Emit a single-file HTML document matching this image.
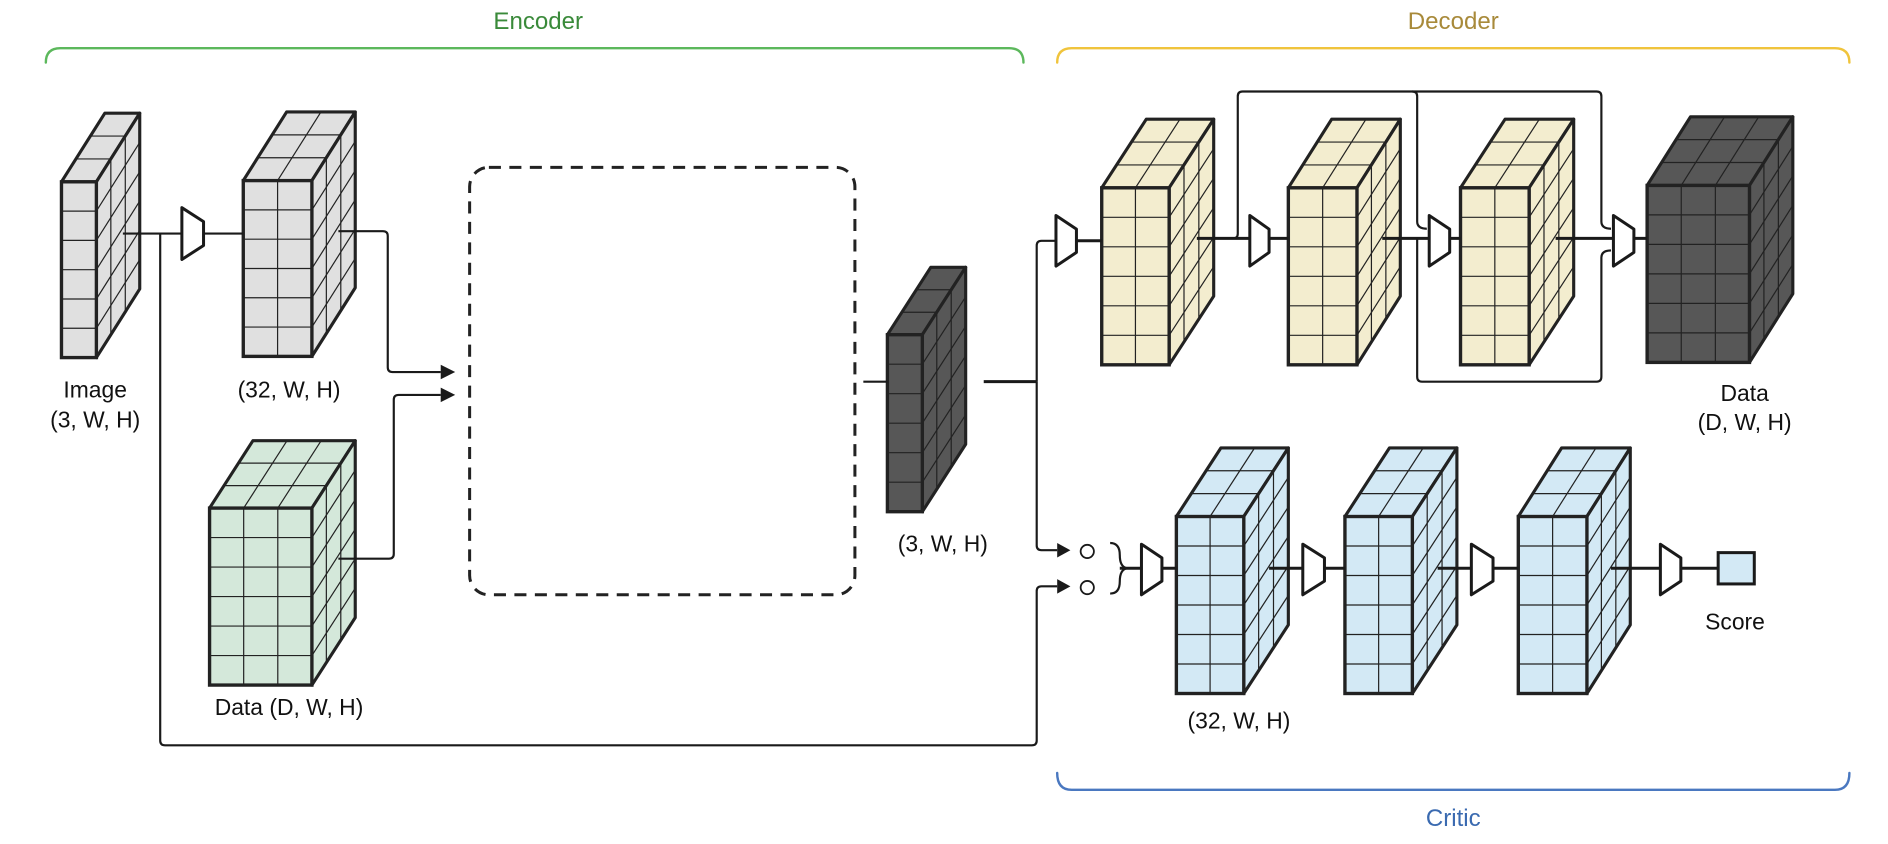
<!DOCTYPE html>
<html><head><meta charset="utf-8">
<style>html,body{margin:0;padding:0;background:#fff;width:1888px;height:844px;overflow:hidden}
text{font-family:"Liberation Sans",Arial,sans-serif}</style></head>
<body>
<svg id="s" width="1888" height="844" viewBox="0 0 1568 701" xmlns="http://www.w3.org/2000/svg">
<g fill="none" stroke-width="2" stroke-linecap="round">
<path d="M38,52 Q38,40 50,40 L838,40 Q850,40 850,52" stroke="#5cb85c"/>
<path d="M878,52 Q878,40 890,40 L1524,40 Q1536,40 1536,52" stroke="#f0c43c"/>
<path d="M878,642 Q878,656 890,656 L1524,656 Q1536,656 1536,642" stroke="#4a78c0"/>
</g>
<text x="447" y="24" font-size="20" fill="#3a8a3a" text-anchor="middle">Encoder</text>
<text x="1207" y="24" font-size="20" fill="#a88a3a" text-anchor="middle">Decoder</text>
<text x="1207" y="686" font-size="20" fill="#3a6ab0" text-anchor="middle">Critic</text>
<rect x="390" y="139" width="320" height="355" rx="16" fill="none" stroke="#222" stroke-width="2.5" stroke-dasharray="10,7"/>
<g id="cubes"></g>
<g id="lines" fill="none" stroke="#1a1a1a" stroke-width="1.8">
<path d="M102,194 L202,194"/>
<path d="M133,194 L133,615 Q133,619 137,619 L857,619 Q861,619 861,615 L861,491 Q861,487 865,487 L878,487"/>
<path d="M281,192 L318,192 Q322,192 322,196 L322,305 Q322,309 326,309 L366,309"/>
<path d="M281,464 L323,464 Q327,464 327,460 L327,332 Q327,328 331,328 L366,328"/>
<path d="M717,317 L737,317"/>
<path d="M817,317 L861,317" stroke-width="2.5"/>
<path d="M861,317 L861,204 Q861,200 865,200 L877,200"/>
<path d="M861,317 L861,453 Q861,457 865,457 L878,457"/>
<path d="M894,200 L915,200 M994,198 L1038,198 M1054,198 L1070,198 M1148,198 L1187,198 M1204,198 L1213,198 M1292,198 L1340,198 M1357,198 L1368,198" stroke-width="2.5"/>
<path d="M1024,198 Q1028,198 1028,194 L1028,80 Q1028,76 1032,76 L1326,76 Q1330,76 1330,80 L1330,184 Q1330,190 1338,190"/>
<path d="M1173,76 Q1177,76 1177,80 L1177,184 Q1177,190 1185,190"/>
<path d="M1338,208 Q1330,208 1330,214 L1330,313 Q1330,317 1326,317 L1181,317 Q1177,317 1177,313 L1177,198"/>
<path d="M930,472 L948,472 M965,472 L977,472 M1054,472 L1082,472 M1100,472 L1117,472 M1194,472 L1222,472 M1240,472 L1261,472 M1338,472 L1379,472 M1396,472 L1427,472" stroke-width="2.5"/>
<path d="M922,451 Q930,451 930,461 Q930,471 936,472 Q930,473 930,483 Q930,493 922,493" stroke-width="1.8"/>
</g>
<g fill="#1a1a1a">
<polygon points="366,303 378,309 366,315"/>
<polygon points="366,322 378,328 366,334"/>
<polygon points="878,451 889,457 878,463"/>
<polygon points="878,481 889,487 878,493"/>
</g>
<g fill="none" stroke="#1a1a1a" stroke-width="1.5">
<circle cx="903" cy="458" r="5.5"/><circle cx="903" cy="488" r="5.5"/>
</g>
<g id="traps" fill="#fff" stroke="#1a1a1a" stroke-width="2.5" stroke-linejoin="round"></g>
<rect x="1427" y="459" width="30" height="26" fill="#d3e9f5" stroke="#1a1a1a" stroke-width="2.5"/>
<g font-size="19" fill="#111" text-anchor="middle">
<text x="79" y="330">Image</text><text x="79" y="355">(3, W, H)</text>
<text x="240" y="330">(32, W, H)</text>
<text x="240" y="594">Data (D, W, H)</text>
<text x="783" y="458">(3, W, H)</text>
<text x="1449" y="333">Data</text><text x="1449" y="357">(D, W, H)</text>
<text x="1441" y="523">Score</text>
<text x="1029" y="605">(32, W, H)</text>
</g>
</svg>
<script>
var NS="http://www.w3.org/2000/svg";
function el(p,t,a){var e=document.createElementNS(NS,t);for(var k in a)e.setAttribute(k,a[k]);p.appendChild(e);return e;}
var g=document.getElementById("cubes");
function cube(x,y,w,h,dx,dy,nc,nr,fill,side,line){
 line=line||"#222";
 el(g,"polygon",{points:[x,y,x+dx,y+dy,x+w+dx,y+dy,x+w,y].join(","),fill:fill,stroke:"#222","stroke-width":2.6,"stroke-linejoin":"round"});
 el(g,"polygon",{points:[x+w,y,x+w+dx,y+dy,x+w+dx,y+h+dy,x+w,y+h].join(","),fill:side,stroke:"#222","stroke-width":2.6,"stroke-linejoin":"round"});
 el(g,"rect",{x:x,y:y,width:w,height:h,fill:fill,stroke:"#222","stroke-width":2.8});
 var ds=[1/3,2/3];
 for(var i=1;i<nc;i++){var cx=x+w*i/nc;el(g,"line",{x1:cx,y1:y,x2:cx,y2:y+h,stroke:line,"stroke-width":1});el(g,"line",{x1:cx,y1:y,x2:cx+dx,y2:y+dy,stroke:line,"stroke-width":1});}
 for(var j=1;j<nr;j++){var cy=y+h*j/nr;el(g,"line",{x1:x,y1:cy,x2:x+w,y2:cy,stroke:line,"stroke-width":1});el(g,"line",{x1:x+w,y1:cy,x2:x+w+dx,y2:cy+dy,stroke:line,"stroke-width":1});}
 ds.forEach(function(f){el(g,"line",{x1:x+dx*f,y1:y+dy*f,x2:x+w+dx*f,y2:y+dy*f,stroke:line,"stroke-width":1});el(g,"line",{x1:x+w+dx*f,y1:y+dy*f,x2:x+w+dx*f,y2:y+h+dy*f,stroke:line,"stroke-width":1});});
}
var GR="#e0e0e0",YE="#f3edcf",GN="#d4e8da",BL="#d3e9f5",DK="#575757";
cube(51,151,29,146,36,-57,1,6,GR,GR);
cube(202,150,57,146,36,-57,2,6,GR,GR);
cube(174,422,85,147,36,-56,3,6,GN,GN);
cube(737,278,29,147,36,-56,1,6,DK,DK,"#222");
cube(915,156,56,147,37,-57,2,6,YE,YE);
cube(1070,156,57,147,36,-57,2,6,YE,YE);
cube(1213,156,57,147,37,-57,2,6,YE,YE);
cube(1368,154,85,147,36,-57,3,6,DK,DK,"#222");
cube(977,429,56,147,37,-57,2,6,BL,BL);
cube(1117,429,56,147,37,-57,2,6,BL,BL);
cube(1261,429,57,147,36,-57,2,6,BL,BL);
var t=document.getElementById("traps");
function trap(x,cy,w,h){var s=h*0.27;el(t,"polygon",{points:[x,cy-h/2,x+w,cy-h/2+s,x+w,cy+h/2-s,x,cy+h/2].join(",")});}
trap(151,194,18,43);
trap(877,200,17,42);trap(1038,200,16,42);trap(1187,200,17,42);trap(1340,200,17,42);
trap(948,473,17,42);trap(1082,473,18,42);trap(1222,473,18,42);trap(1379,473,17,42);
</script>
</body></html>
